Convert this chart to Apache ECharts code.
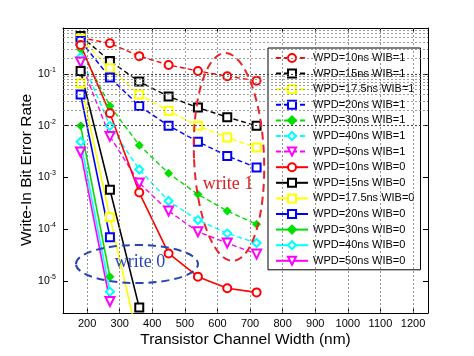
<!DOCTYPE html>
<html><head><meta charset="utf-8">
<script src="https://cdn.jsdelivr.net/npm/echarts@6/dist/echarts.min.js"></script>
<style>html,body{margin:0;padding:0;background:#fff}#c{width:474px;height:356px}</style>
</head><body><div id="c"></div>
<script>
// ---- data ----
const widths = [180, 270, 360, 450, 540, 630, 720];
const xTicks = [200, 300, 400, 500, 600, 700, 800, 900, 1000, 1100, 1200];
const wpdNames = ['10ns', '15ns', '17.5ns', '20ns', '30ns', '40ns', '50ns'];
const wib1_10ns   = [0.50, 0.39, 0.22, 0.149, 0.114, 0.090, 0.074];
const wib1_15ns   = [0.54, 0.178, 0.071, 0.0365, 0.0223, 0.0146, 0.0099];
const wib1_17_5ns = [0.48, 0.129, 0.040, 0.0193, 0.0099, 0.0059, 0.0038];
const wib1_20ns   = [0.43, 0.085, 0.024, 0.010, 0.0049, 0.0026, 0.00155];
const wib1_30ns   = [0.30, 0.024, 0.0042, 0.0012, 0.00047, 0.000225, 0.000124];
const wib1_40ns   = [0.21, 0.0099, 0.00142, 0.00035, 0.00015, 8.3e-5, 5.4e-5];
const wib1_50ns   = [0.17, 0.0062, 0.00078, 0.000225, 8.9e-5, 5.4e-5, 3.3e-5];
const wib0_10ns   = [0.36, 0.0174, 0.00051, 3.4e-5, 1.21e-5, 7.2e-6, 6.0e-6];
const wib0_15ns   = [0.114, 0.00058, 3.05e-6];
const wib0_17_5ns = [0.066, 1.7e-4, 6e-7];
const wib0_20ns   = [0.040, 7.0e-5];
const wib0_30ns   = [0.0099, 1.2e-5];
const wib0_40ns   = [0.0049, 6.2e-6];
const wib0_50ns   = [0.0031, 4.0e-6];

const wib1 = [wib1_10ns, wib1_15ns, wib1_17_5ns, wib1_20ns, wib1_30ns, wib1_40ns, wib1_50ns];
const wib0 = [wib0_10ns, wib0_15ns, wib0_17_5ns, wib0_20ns, wib0_30ns, wib0_40ns, wib0_50ns];

const colors = ['#ff0000', '#000000', '#ffff00', '#0000ff', '#00e000', '#00ffff', '#ff00ff'];
const symbols = ['emptyCircle', 'emptyRect', 'emptyRect', 'emptyRect', 'diamond', 'emptyDiamond', 'emptyTriangle'];
const symSizes = [8, 8, 8, 8, 7, 8, 9];
const symRot = [0, 0, 0, 0, 0, 0, 180];

const YMIN = 2.4e-6, YMAX = 0.77, XMIN = 126, XMAX = 1246;

const FONT = '"Liberation Sans", Arial, sans-serif';

function mkSeries(vals, i, wibLabel, dashed) {
  return {
    name: 'WPD=' + wpdNames[i] + ' WIB=' + wibLabel,
    type: 'line',
    data: vals.map((v, k) => [widths[k], v]),
    symbol: symbols[i],
    symbolSize: symSizes[i],
    symbolRotate: symRot[i],
    showAllSymbol: true,
    z: 3,
    lineStyle: { color: colors[i], width: dashed ? 1.4 : 1.6, type: dashed ? [5, 3] : 'solid' },
    itemStyle: { color: colors[i], borderColor: colors[i], borderWidth: 1.4 },
    emphasis: { disabled: true }
  };
}

const series = [];
wib1.forEach((v, i) => series.push(mkSeries(v, i, '1', true)));
wib0.forEach((v, i) => series.push(mkSeries(v, i, '0', false)));

// grid lines (minor log lines + major lines) drawn through axis scales
const gridLines = [];
xTicks.forEach(v => gridLines.push({ xAxis: v, lineStyle: { color: '#7a7a7a', type: [2, 2], width: 0.8 } }));
for (let e = -6; e <= -1; e++) {
  for (let k = 1; k <= 9; k++) {
    const v = k * Math.pow(10, e);
    if (v > YMIN && v < YMAX) {
      gridLines.push({ yAxis: v, lineStyle: { color: k === 1 ? '#444' : '#858585', type: [2, 2], width: k === 1 ? 1.1 : 0.8 } });
    }
  }
}
series.unshift({
  name: '_grid', type: 'line', data: [[200, 1e-3]], symbolSize: 0, showSymbol: false, z: 1,
  lineStyle: { opacity: 0 }, silent: true,
  markLine: { silent: true, symbol: 'none', label: { show: false }, animation: false, data: gridLines }
});

function yFmt(v) {
  const e = Math.log10(v);
  if (Math.abs(e - Math.round(e)) > 1e-6) return '';
  return '{b|10}{s|' + Math.round(e) + '}';
}

const chart = echarts.init(document.getElementById('c'), null, { renderer: 'canvas' });
chart.setOption({
  animation: false,
  backgroundColor: '#fff',
  grid: { left: 63, right: 46, top: 28, bottom: 43, show: false },
  legend: {
    data: series.filter(s => s.name !== '_grid').map(s => s.name),
    orient: 'vertical', left: 268, top: 48,
    padding: [4, 6, 3, 7],
    itemWidth: 32, itemHeight: 10, itemGap: 3.6,
    backgroundColor: '#fff', borderColor: '#000', borderWidth: 1, borderRadius: 0,
    textStyle: { fontSize: 11, fontFamily: FONT, color: '#000', lineHeight: 12, padding: [0, 0, 0, 0] },
    selectedMode: false
  },
  xAxis: [{
    type: 'value', min: XMIN, max: XMAX,
    name: 'Transistor Channel Width (nm)', nameLocation: 'middle', nameGap: 19, nameMoveOverlap: false,
    nameTextStyle: { fontSize: 15.5, fontFamily: FONT, color: '#000' },
    axisLine: { show: true, lineStyle: { color: '#000', width: 1 } },
    axisTick: { show: true, inside: true, length: 4, customValues: xTicks, lineStyle: { color: '#000' } },
    axisLabel: { customValues: xTicks, formatter: v => String(Math.round(v)), fontSize: 11, fontFamily: FONT, color: '#000', margin: 5 },
    splitLine: { show: false }
  }, {
    type: 'value', min: XMIN, max: XMAX, position: 'top',
    axisLine: { show: true, lineStyle: { color: '#000', width: 1 } },
    axisTick: { show: true, inside: true, length: 4, customValues: xTicks, lineStyle: { color: '#000' } },
    axisLabel: { show: false },
    splitLine: { show: false }
  }],
  yAxis: [{
    type: 'log', logBase: 10, min: YMIN, max: YMAX,
    axisLine: { show: true, lineStyle: { color: '#000', width: 1 } },
    axisTick: { show: true, inside: true, length: 5, lineStyle: { color: '#000' } },
    axisLabel: {
      formatter: yFmt, margin: 7, color: '#000',
      rich: {
        b: { fontSize: 10.5, fontFamily: FONT, color: '#000' },
        s: { fontSize: 7, fontFamily: FONT, color: '#000', padding: [0, 0, 8, 0] }
      }
    },
    splitLine: { show: false }
  }, {
    type: 'log', logBase: 10, min: YMIN, max: YMAX, position: 'right',
    axisLine: { show: true, lineStyle: { color: '#000', width: 1 } },
    axisTick: { show: true, inside: true, length: 5, lineStyle: { color: '#000' } },
    axisLabel: { show: false },
    splitLine: { show: false }
  }],
  series: series,
  graphic: [
    { type: 'text', x: 27, y: 170, rotation: Math.PI / 2, z: 51,
      style: { text: 'Write-In Bit Error Rate', font: '15.5px ' + FONT, fill: '#000', align: 'center', verticalAlign: 'middle' } },
    { type: 'ellipse', x: 229, y: 157, rotation: 0.04, z: 50,
      shape: { cx: 0, cy: 0, rx: 35, ry: 104 },
      style: { fill: 'none', stroke: '#e8262a', lineWidth: 2, lineDash: [8, 5] } },
    { type: 'text', x: 228, y: 184, z: 51,
      style: { text: 'write 1', font: '18px "Liberation Serif", "Times New Roman", serif', fill: '#e02020', align: 'center', verticalAlign: 'middle' } },
    { type: 'ellipse', x: 137, y: 264, z: 50,
      shape: { cx: 0, cy: 0, rx: 61, ry: 19 },
      style: { fill: 'none', stroke: '#2845b5', lineWidth: 2, lineDash: [8, 5] } },
    { type: 'text', x: 140, y: 262, z: 51,
      style: { text: 'write 0', font: '18px "Liberation Serif", "Times New Roman", serif', fill: '#2845b5', align: 'center', verticalAlign: 'middle' } }
  ]
});
</script>
</body></html>
